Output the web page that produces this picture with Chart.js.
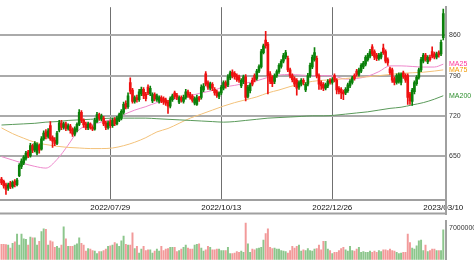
<!DOCTYPE html>
<html><head><meta charset="utf-8">
<script src="https://cdn.jsdelivr.net/npm/chart.js@4.4.1/dist/chart.umd.min.js"></script>
<style>
html,body{margin:0;padding:0;background:#fff;overflow:hidden;}
#wrap{position:relative;width:474px;height:267px;background:#fff;}
#main{position:absolute;left:0;top:0;}
#vol{position:absolute;left:0;top:214px;}
</style></head><body>
<div id="wrap">
<canvas id="main" width="474" height="215"></canvas>
<canvas id="vol" width="474" height="53"></canvas>
</div>
<script>
// ---- data ----
const opens = [
610,606,600,594,603,597,606,600,616,632,
638,646,657,650,668,660,655,668,662,680,
692,684,703,682,678,672,695,708,700,706,
698,702,696,688,695,705,726,712,706,699,
706,700,697,710,722,714,716,708,700,710,
703,714,706,712,716,726,742,736,778,765,
745,752,748,758,766,758,770,758,746,757,
748,745,752,750,748,744,737,748,760,756,
744,752,745,752,762,758,754,742,740,752,
752,765,793,778,768,775,766,762,754,760,
768,778,774,786,796,794,790,788,772,779,
788,754,764,782,790,785,798,805,830,852,
845,793,788,780,790,797,806,815,822,820,
800,790,785,782,770,775,782,765,775,790,
805,818,820,790,778,775,768,772,782,778,
790,782,768,766,762,760,764,772,778,790,
798,792,798,805,810,818,824,840,832,826,
820,822,838,832,818,802,800,785,778,780,
778,795,790,790,758,745,762,776,787,800,
815,826,814,822,832,828,822,830,828,856];
const highs = [
613,608,603,603,606,607,609,611,637,645,
651,658,660,672,671,675,673,671,684,694,
696,698,710,685,682,693,712,712,709,709,
706,705,699,701,708,731,729,715,709,709,
708,703,716,726,725,723,719,711,711,713,
716,717,719,725,731,744,746,760,786,768,
755,756,766,770,769,761,774,772,760,760,
758,755,755,753,751,747,753,758,763,759,
755,755,756,766,765,761,757,753,756,754,
774,776,797,781,779,778,769,765,762,773,
781,781,792,798,800,797,793,791,785,791,
792,773,777,786,793,801,809,836,845,867,
848,797,790,793,800,811,818,829,834,824,
803,793,788,785,781,785,785,778,794,812,
826,839,824,793,781,778,777,783,785,786,
793,785,771,769,765,769,777,783,789,793,
801,803,811,815,825,829,836,844,835,829,
829,831,845,835,821,805,803,788,793,795,
795,798,793,793,761,768,781,790,803,822,
829,829,825,826,840,831,831,833,852,906];
const lows = [
600,594,583,590,593,594,596,598,614,628,
635,643,647,648,656,657,652,655,660,677,
680,681,677,665,668,670,692,696,697,694,
695,690,684,685,692,703,708,700,696,696,
697,694,695,708,712,711,703,696,697,699,
700,703,704,710,713,723,732,733,758,742,
742,744,745,755,750,746,757,755,743,746,
745,742,743,740,738,724,734,745,750,748,
741,744,742,749,752,749,744,739,738,745,
749,762,772,766,765,764,756,752,750,757,
765,768,771,783,786,784,780,778,769,776,
746,751,760,772,779,782,795,803,828,838,
758,776,771,776,787,794,803,812,819,797,
786,779,771,756,766,772,774,762,772,787,
802,815,786,766,766,764,765,769,775,775,
779,758,758,750,748,757,761,769,775,782,
789,789,795,802,807,815,821,825,818,816,
817,819,827,812,808,792,778,774,775,777,
774,785,778,740,740,738,758,773,784,797,
812,815,811,815,821,819,819,822,825,852];
const closes = [
603,598,592,600,596,604,600,608,634,641,
648,655,650,668,660,672,670,660,680,690,
684,694,680,676,672,690,708,700,706,698,
703,694,688,698,705,726,712,704,699,706,
700,697,712,722,716,720,706,700,708,703,
712,706,716,722,728,740,735,755,763,745,
752,748,762,766,755,750,760,768,757,750,
755,752,746,744,742,737,750,755,754,752,
752,747,752,762,756,752,747,750,752,748,
770,772,775,770,776,768,760,755,760,770,
778,772,788,795,790,788,783,782,782,788,
752,770,774,775,782,798,806,832,842,842,
790,780,776,790,797,808,815,825,830,800,
790,783,775,768,778,782,778,775,790,808,
822,830,790,775,772,768,774,780,778,783,
782,765,762,760,758,766,774,780,786,785,
792,800,808,812,822,826,832,828,822,820,
826,828,830,815,812,795,782,778,790,792,
792,788,782,752,746,765,778,787,800,818,
826,818,822,818,824,822,828,826,848,898];
const volumes = [
3392000,3392000,3339000,3233000,2544000,3604000,3922000,5618000,3233000,5618000,
4558000,4452000,3233000,4982000,4823000,4823000,3233000,4028000,6148000,6784000,
6678000,3233000,4134000,3922000,2703000,2968000,2544000,3233000,7208000,4558000,
2968000,2968000,2968000,3233000,3498000,4823000,3604000,3233000,1908000,2438000,
2332000,2014000,1908000,1378000,1802000,1802000,2014000,2332000,2968000,3074000,
3233000,3763000,3498000,2968000,4134000,5194000,3392000,3233000,3233000,5883000,
2438000,2968000,1484000,2332000,2968000,2014000,2173000,2173000,1484000,1908000,
2332000,1908000,2968000,2014000,2332000,2438000,2703000,2703000,2703000,1802000,
2014000,2332000,2703000,3233000,2544000,2332000,2332000,3233000,3392000,3498000,
2544000,1908000,2173000,2968000,2703000,2173000,2173000,2332000,2332000,2014000,
2014000,2014000,2703000,1378000,1378000,1484000,1802000,1643000,1908000,1643000,
8003000,3498000,1643000,2332000,2173000,2438000,2544000,2703000,4293000,5724000,
6784000,2703000,2438000,2544000,2332000,2332000,2014000,1908000,1802000,1484000,
2014000,2968000,2544000,2968000,3233000,1908000,2173000,2014000,2438000,2014000,
1908000,2332000,2438000,3233000,2173000,4028000,4028000,2332000,2014000,1378000,
1643000,1643000,2014000,2438000,2703000,2173000,1908000,2968000,2014000,1908000,
2332000,2703000,1643000,1802000,1643000,1643000,1908000,1643000,1908000,1643000,
2014000,1802000,2173000,2173000,2014000,2332000,2014000,1908000,1643000,1378000,
1484000,1643000,1643000,5618000,3763000,2544000,2332000,3074000,4134000,4293000,
2014000,3233000,1802000,2014000,2332000,2332000,2014000,2014000,2014000,6572000];
const maIndex = [0,5,10,15,20,25,30,35,40,45,50,55,60,65,70,75,80,85,90,95,100,105,110,115,120,125,130,135,140,145,150,155,160,165,170,175,180,185,190,195,199];
const ma25  = [649,643,637,632,629,644,669,696,704,709,714,722,730,736,743,746,751,755,760,764,770,773,777,781,787,791,792,791,790,790,789,784,785,789,797,807,807,806,805,805,810];
const ma75  = [699,689,681,674,670,667,665,664,663,663,664,668,674,682,692,698,707,716,723,730,737,743,748,753,760,765,771,776,780,782,783,785,787,788,790,792,794,795,796,798,800];
const ma200 = [704,705,706,707,709,710,712,713,714,715,716,716,716,716,715,714,713,712,711,710,709,710,712,714,716,717,718,719,720,720,721,723,725,727,730,733,735,739,743,749,755];
const dateTickIndex  = [49,99,149,199];
const dateTickLabels = ['2022/07/29','2022/10/13','2022/12/26','2023/03/10'];
const priceTicks  = [650,720,790,860];
const volumeTicks = [7000000];

// ---- drawing ----
Chart.defaults.font.family = '"Liberation Sans", Arial, sans-serif';
const X_MIN = -0.68, X_MAX = 200.23;
const UP = '#0b800b', DOWN = '#ee1111';
const VUP = '#8cc68c', VDOWN = '#f29a9a';
const idx = closes.map((_, i) => i);
const up = idx.map(i => closes[i] >= opens[i]);
const cCol = up.map(u => u ? UP : DOWN);
const vCol = up.map(u => u ? VUP : VDOWN);

const decor = {
  id: 'decor',
  afterDraw(chart) {
    const {ctx, chartArea: a, scales: {y}} = chart;
    ctx.save();
    ctx.fillStyle = '#a0a0a0';
    ctx.fillRect(a.right - 1, a.bottom, 2, chart.height - a.bottom);
    ctx.fillRect(0, 212.5, a.right, 2);
    ctx.font = '7px "Liberation Sans"';
    ctx.textBaseline = 'middle';
    ctx.textAlign = 'left';
    const labs = [['MA25', ma25, '#ff3399'], ['MA75', ma75, '#f29a00'], ['MA200', ma200, '#2f8f2f']];
    for (const [t, arr, c] of labs) {
      ctx.fillStyle = c;
      ctx.fillText(t, a.right + 3, y.getPixelForValue(arr[arr.length - 1]));
    }
    ctx.restore();
  }
};

const line = (arr, color) => ({
  type: 'line',
  data: maIndex.map((x, k) => ({x, y: arr[k]})),
  borderColor: color, borderWidth: 1, pointRadius: 0,
  cubicInterpolationMode: 'monotone', order: 5
});

new Chart(document.getElementById('main'), {
  type: 'bar',
  data: {datasets: [
    line(ma200, '#5a9a5a'),
    line(ma75, '#f3c27a'),
    line(ma25, '#ee88cc'),
    {type: 'bar', data: idx.map(i => ({x: i, y: [lows[i], highs[i]]})),
     backgroundColor: cCol, barThickness: 1, grouped: false, borderWidth: 0, order: 2},
    {type: 'bar', data: idx.map(i => ({x: i, y: [opens[i], closes[i]]})),
     backgroundColor: cCol, barThickness: 2, grouped: false, borderWidth: 0, minBarLength: 1, order: 1}
  ]},
  options: {
    responsive: false, animation: false, events: [],
    layout: {padding: 0},
    plugins: {legend: {display: false}, tooltip: {enabled: false}},
    scales: {
      x: {
        type: 'linear', min: X_MIN, max: X_MAX, offset: false,
        afterFit: s => { s.height = 15.5; },
        afterBuildTicks: s => { s.ticks = dateTickIndex.map(v => ({value: v})); },
        ticks: {autoSkip: false, maxRotation: 0, padding: 3, color: '#111',
                font: {size: 8}, callback: v => { const k = dateTickIndex.indexOf(v); return k < 0 ? '' : dateTickLabels[k]; }},
        grid: {offset: false, drawTicks: false, lineWidth: 1,
               color: c => (c.tick && c.tick.value === 199) ? 'rgba(0,0,0,0)' : '#707070'},
        border: {display: true, color: '#a0a0a0', width: 2}
      },
      y: {
        position: 'right', min: 574.3, max: 909.2,
        afterFit: s => { s.width = 28; },
        afterBuildTicks: s => { s.ticks = priceTicks.map(v => ({value: v})); },
        ticks: {padding: 3, color: '#333', font: {size: 7}},
        grid: {drawTicks: false, lineWidth: 2, color: '#aaaaaa'},
        border: {display: true, color: '#a0a0a0', width: 2}
      }
    }
  },
  plugins: [decor]
});

new Chart(document.getElementById('vol'), {
  type: 'bar',
  data: {datasets: [
    {data: idx.map(i => ({x: i, y: volumes[i]})), backgroundColor: vCol,
     barThickness: 1.3, grouped: false, borderWidth: 0}
  ]},
  options: {
    responsive: false, animation: false, events: [],
    layout: {padding: 0},
    plugins: {legend: {display: false}, tooltip: {enabled: false}},
    scales: {
      x: {type: 'linear', min: X_MIN, max: X_MAX, offset: false, display: false},
      y: {
        position: 'right', min: 0, max: 8430000,
        afterFit: s => { s.width = 28; },
        afterBuildTicks: s => { s.ticks = volumeTicks.map(v => ({value: v})); },
        ticks: {padding: 3, color: '#333', font: {size: 7}, callback: v => String(v)},
        grid: {display: false, drawTicks: false},
        border: {display: true, color: '#a0a0a0', width: 2}
      }
    }
  }
});
</script>
</body></html>
